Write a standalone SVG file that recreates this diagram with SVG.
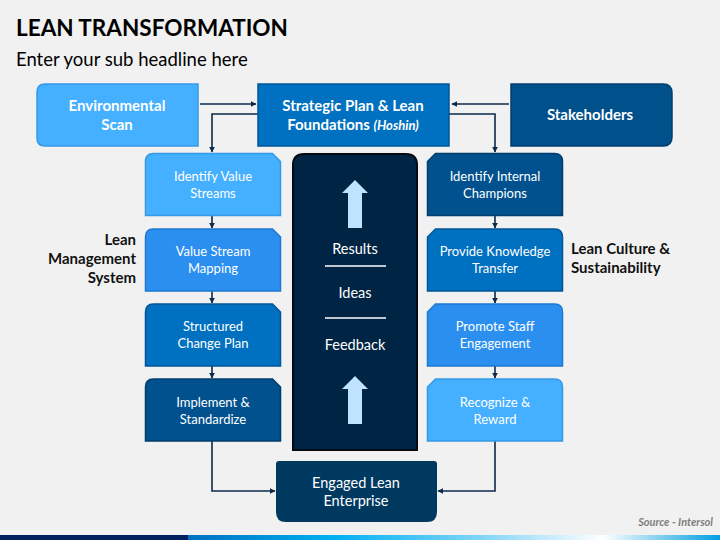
<svg xmlns="http://www.w3.org/2000/svg" width="720" height="540" viewBox="0 0 720 540">
<defs>
<style>
.t{font-family:Lato,"Open Sans","Liberation Sans",sans-serif;fill:#fff;text-anchor:middle}
.b{font-weight:bold}
.box{font-size:13px}
.big{font-size:14.5px}
.top{font-size:15px;font-weight:bold}
.lbl{font-family:Lato,"Open Sans","Liberation Sans",sans-serif;font-weight:bold;font-size:15px;fill:#111}
.c{fill:none;stroke:#0d2a4a;stroke-width:1.6}
.l1{fill:#45b0ff;stroke:#3599e6;stroke-width:1.5}
.l2{fill:#2b8ff0;stroke:#1c78d0;stroke-width:1.5}
.l3{fill:#0070c0;stroke:#005698;stroke-width:1.5}
.l4{fill:#00518e;stroke:#003e6e;stroke-width:1.5}
</style>
<marker id="ah" viewBox="0 0 10 10" refX="9" refY="5" markerWidth="6" markerHeight="6" markerUnits="userSpaceOnUse" orient="auto">
<path d="M0,0 L10,5 L0,10 Z" fill="#0d2a4a"/>
</marker>
<linearGradient id="bar" x1="188" y1="0" x2="720" y2="0" gradientUnits="userSpaceOnUse">
<stop offset="0" stop-color="#0070c0"/>
<stop offset="0.27" stop-color="#00b0f0"/>
<stop offset="0.55" stop-color="#80d4f8"/>
<stop offset="0.78" stop-color="#ffffff"/>
<stop offset="1" stop-color="#009ee0"/>
</linearGradient>
<path id="lb" d="M0,62 V8 Q0,0 8,0 H127 L135,8 V62 Z"/>
<path id="rb" d="M0,62 V8 L8,0 H127 Q135,0 135,8 V62 Z"/>
</defs>
<rect width="720" height="540" fill="#f1f1f1"/>
<text x="16" y="36" font-family="Lato,'Open Sans','Liberation Sans',sans-serif" font-weight="bold" font-size="22.5" fill="#000">LEAN TRANSFORMATION</text>
<text x="16" y="66" font-family="Lato,'Open Sans','Liberation Sans',sans-serif" font-size="18.5" fill="#000">Enter your sub headline here</text>

<g id="connectors">
<line class="c" x1="200" y1="104" x2="256" y2="104" marker-end="url(#ah)"/>
<line class="c" x1="509" y1="104" x2="452" y2="104" marker-end="url(#ah)"/>
<polyline class="c" points="258,114 212,114 212,152" marker-end="url(#ah)"/>
<polyline class="c" points="449,114 495,114 495,152" marker-end="url(#ah)"/>
<line class="c" x1="212" y1="215" x2="212" y2="228" marker-end="url(#ah)"/>
<line class="c" x1="212" y1="290" x2="212" y2="303" marker-end="url(#ah)"/>
<line class="c" x1="212" y1="366" x2="212" y2="378" marker-end="url(#ah)"/>
<line class="c" x1="495" y1="215" x2="495" y2="228" marker-end="url(#ah)"/>
<line class="c" x1="495" y1="290" x2="495" y2="303" marker-end="url(#ah)"/>
<line class="c" x1="495" y1="366" x2="495" y2="378" marker-end="url(#ah)"/>
<polyline class="c" points="212,441 212,491 275,491" marker-end="url(#ah)"/>
<polyline class="c" points="495,441 495,491 438,491" marker-end="url(#ah)"/>
</g>

<g id="env">
<path d="M37,92 Q37,84 45,84 H198 V146 H45 Q37,146 37,138 Z" fill="#45b0ff" stroke="#3599e6" stroke-width="1.5"/>
<text class="t top" x="117" y="111">Environmental</text>
<text class="t top" x="117" y="130">Scan</text>
</g>
<g id="strategic">
<rect x="258" y="84" width="191" height="62" fill="#0070c0" stroke="#005698" stroke-width="1.5"/>
<text class="t top" x="353" y="111">Strategic Plan &amp; Lean</text>
<text class="t top" x="353" y="130">Foundations <tspan font-style="italic" font-size="13">(Hoshin)</tspan></text>
</g>
<g id="stakeholders">
<path d="M511,84 H663 Q672,84 672,93 V137 Q672,146 663,146 H511 Z" fill="#00508c" stroke="#003e6e" stroke-width="1.5"/>
<text class="t top" x="590" y="120">Stakeholders</text>
</g>

<g id="ivs"><use href="#lb" class="l1" x="145.5" y="153.5"/>
<text class="t box" x="213" y="181">Identify Value</text><text class="t box" x="213" y="198">Streams</text></g>
<g id="vsm"><use href="#lb" class="l2" x="145.5" y="229"/>
<text class="t box" x="213" y="256">Value Stream</text><text class="t box" x="213" y="273">Mapping</text></g>
<g id="scp"><use href="#lb" class="l3" x="145.5" y="304"/>
<text class="t box" x="213" y="331">Structured</text><text class="t box" x="213" y="348">Change Plan</text></g>
<g id="impl"><use href="#lb" class="l4" x="145.5" y="379"/>
<text class="t box" x="213" y="407">Implement &amp;</text><text class="t box" x="213" y="424">Standardize</text></g>

<g id="iic"><use href="#rb" class="l4" x="427.5" y="153.5"/>
<text class="t box" x="495" y="181">Identify Internal</text><text class="t box" x="495" y="198">Champions</text></g>
<g id="pkt"><use href="#rb" class="l3" x="427.5" y="229"/>
<text class="t box" x="495" y="256">Provide Knowledge</text><text class="t box" x="495" y="273">Transfer</text></g>
<g id="pse"><use href="#rb" class="l2" x="427.5" y="304"/>
<text class="t box" x="495" y="331">Promote Staff</text><text class="t box" x="495" y="348">Engagement</text></g>
<g id="rr"><use href="#rb" class="l1" x="427.5" y="379"/>
<text class="t box" x="495" y="407">Recognize &amp;</text><text class="t box" x="495" y="424">Reward</text></g>

<g id="center">
<path d="M293,450 V165 Q293,154 304,154 H406 Q417,154 417,165 V450 Z" fill="#002443" stroke="#050a12" stroke-width="2"/>
<path d="M355,180 L368,193 L362,193 L362,228 L348,228 L348,193 L342,193 Z" fill="#bfe3ff"/>
<path d="M355,376 L368,389 L362,389 L362,424 L348,424 L348,389 L342,389 Z" fill="#bfe3ff"/>
<text class="t big" x="355" y="254">Results</text>
<line x1="325" y1="266" x2="386" y2="266" stroke="#fff" stroke-width="1.6"/>
<text class="t big" x="355" y="298">Ideas</text>
<line x1="325" y1="318" x2="386" y2="318" stroke="#fff" stroke-width="1.6"/>
<text class="t big" x="355" y="350">Feedback</text>
</g>

<g id="engaged">
<path d="M276,464 Q276,461 279,461 H434 Q437,461 437,464 V512 Q437,522 427,522 H286 Q276,522 276,512 Z" fill="#00395f"/>
<text class="t big" x="356" y="488">Engaged Lean</text>
<text class="t big" x="356" y="506">Enterprise</text>
</g>

<g id="labels">
<text class="lbl" x="136" y="245" text-anchor="end">Lean</text>
<text class="lbl" x="136" y="264" text-anchor="end">Management</text>
<text class="lbl" x="136" y="283" text-anchor="end">System</text>
<text class="lbl" x="571" y="254">Lean Culture &amp;</text>
<text class="lbl" x="571" y="273">Sustainability</text>
</g>

<text x="713" y="526" text-anchor="end" font-family="Lato,'Open Sans','Liberation Sans',sans-serif" font-weight="bold" font-style="italic" font-size="11" fill="#7f7f7f">Source - Intersol</text>
<rect x="0" y="535" width="188" height="5" fill="#002060"/>
<rect x="188" y="535" width="532" height="5" fill="url(#bar)"/>
</svg>
